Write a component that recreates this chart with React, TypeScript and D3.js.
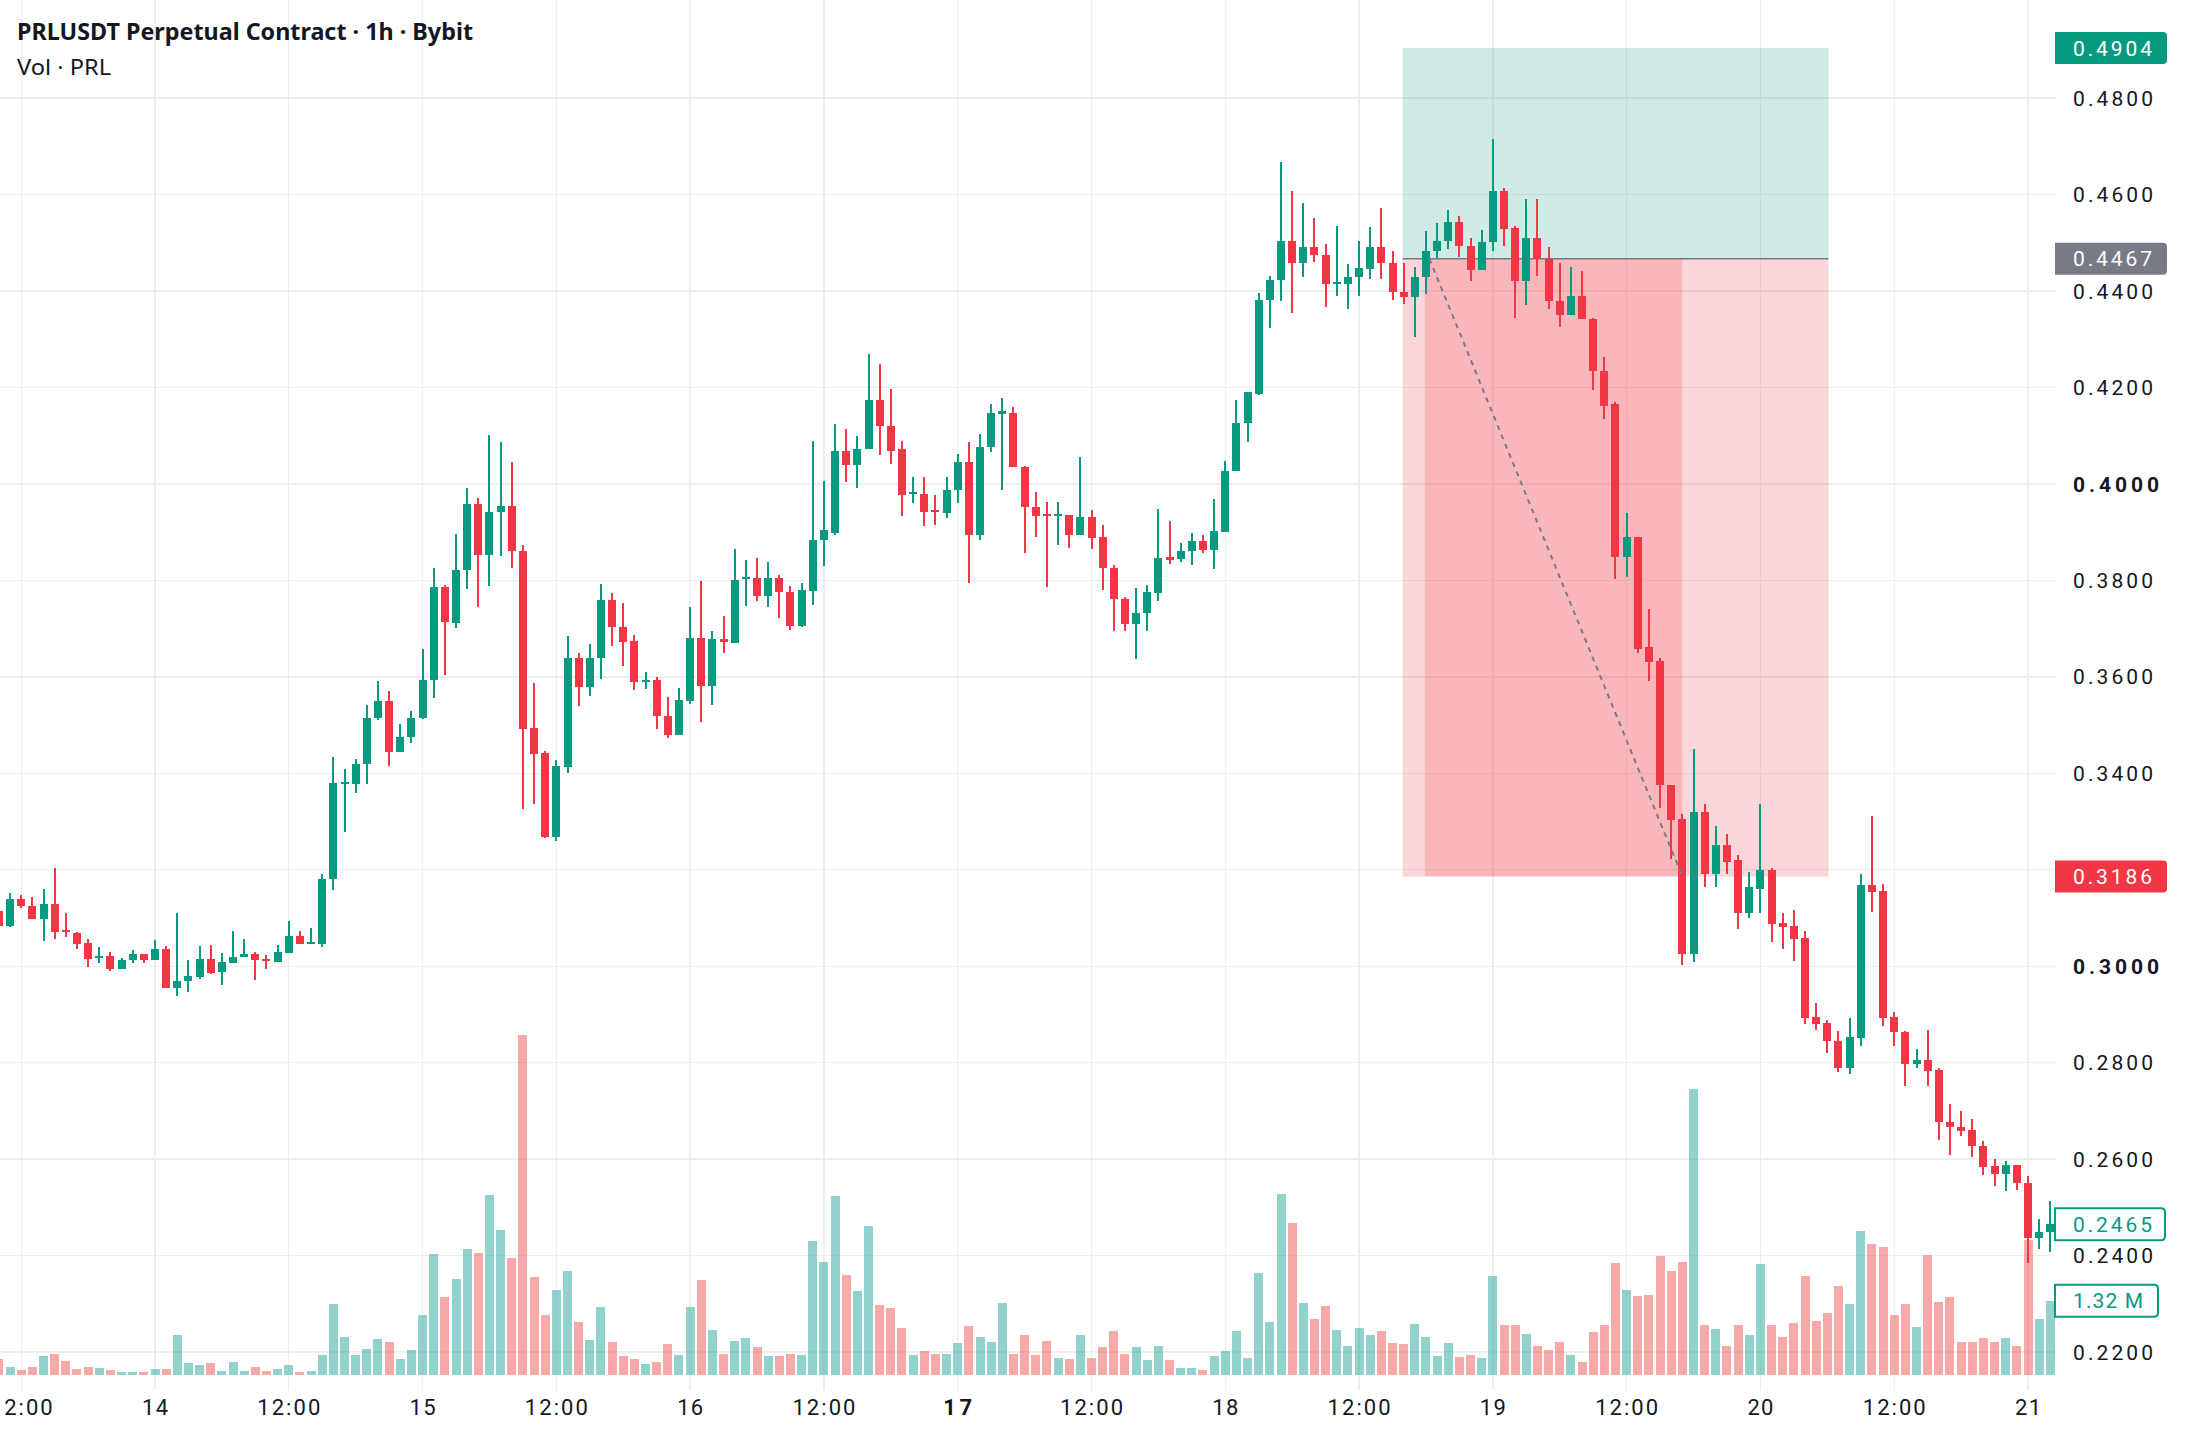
import React from 'react';
import * as d3 from 'd3';

// hourly candles per day: [open, high, low, close, volume (M)]
const day13 = [ // starts 10:00
  [0.3115, 0.3120, 0.3080, 0.3083, 0.29], [0.3083, 0.3152, 0.3081, 0.3140, 0.14],
  [0.3140, 0.3148, 0.3121, 0.3124, 0.09], [0.3125, 0.3144, 0.3097, 0.3099, 0.14],
  [0.3099, 0.3160, 0.3053, 0.3130, 0.33], [0.3130, 0.3204, 0.3056, 0.3072, 0.38],
  [0.3075, 0.3111, 0.3061, 0.3072, 0.25], [0.3069, 0.3071, 0.3035, 0.3047, 0.11],
  [0.3049, 0.3057, 0.2998, 0.3016, 0.14], [0.3019, 0.3040, 0.3006, 0.3021, 0.12],
  [0.3022, 0.3030, 0.2991, 0.2994, 0.09], [0.2994, 0.3017, 0.2994, 0.3012, 0.05],
  [0.3012, 0.3034, 0.3007, 0.3026, 0.06], [0.3026, 0.3026, 0.3006, 0.3012, 0.06],
];
const day14 = [
  [0.3012, 0.3055, 0.3012, 0.3036, 0.10], [0.3036, 0.3042, 0.2954, 0.2954, 0.11],
  [0.2954, 0.3111, 0.2938, 0.2970, 0.71], [0.2969, 0.3014, 0.2946, 0.2980, 0.22],
  [0.2978, 0.3042, 0.2974, 0.3016, 0.17], [0.3016, 0.3045, 0.2984, 0.2986, 0.21],
  [0.2988, 0.3028, 0.2962, 0.3009, 0.08], [0.3007, 0.3074, 0.3006, 0.3019, 0.24],
  [0.3019, 0.3057, 0.3019, 0.3026, 0.08], [0.3026, 0.3030, 0.2972, 0.3012, 0.14],
  [0.3016, 0.3024, 0.2994, 0.3014, 0.08], [0.3008, 0.3045, 0.3008, 0.3030, 0.10],
  [0.3028, 0.3094, 0.3028, 0.3063, 0.17], [0.3063, 0.3074, 0.3046, 0.3046, 0.05],
  [0.3048, 0.3079, 0.3048, 0.3050, 0.08], [0.3046, 0.3191, 0.3040, 0.3181, 0.35],
  [0.3181, 0.3433, 0.3159, 0.3379, 1.27], [0.3378, 0.3410, 0.3278, 0.3381, 0.67],
  [0.3378, 0.3429, 0.3359, 0.3420, 0.35], [0.3420, 0.3541, 0.3378, 0.3515, 0.47],
  [0.3515, 0.3591, 0.3511, 0.3550, 0.64], [0.3550, 0.3570, 0.3416, 0.3444, 0.58],
  [0.3444, 0.3503, 0.3444, 0.3476, 0.29], [0.3476, 0.3529, 0.3462, 0.3515, 0.44],
];
const day15 = [
  [0.3515, 0.3658, 0.3512, 0.3594, 1.06], [0.3594, 0.3825, 0.3557, 0.3787, 2.15],
  [0.3787, 0.3790, 0.3603, 0.3714, 1.38], [0.3711, 0.3896, 0.3702, 0.3821, 1.71],
  [0.3821, 0.3992, 0.3783, 0.3959, 2.24], [0.3959, 0.3970, 0.3744, 0.3852, 2.17],
  [0.3852, 0.4101, 0.3789, 0.3942, 3.21], [0.3942, 0.4088, 0.3850, 0.3955, 2.59],
  [0.3955, 0.4045, 0.3825, 0.3860, 2.09], [0.3860, 0.3873, 0.3327, 0.3491, 6.05],
  [0.3493, 0.3587, 0.3337, 0.3440, 1.74], [0.3442, 0.3446, 0.3265, 0.3268, 1.06],
  [0.3268, 0.3427, 0.3259, 0.3416, 1.52], [0.3414, 0.3684, 0.3401, 0.3639, 1.85],
  [0.3639, 0.3649, 0.3539, 0.3578, 0.95], [0.3578, 0.3669, 0.3560, 0.3640, 0.62],
  [0.3640, 0.3792, 0.3596, 0.3760, 1.21], [0.3760, 0.3774, 0.3664, 0.3703, 0.58],
  [0.3703, 0.3753, 0.3622, 0.3673, 0.34], [0.3674, 0.3686, 0.3572, 0.3590, 0.29],
  [0.3590, 0.3610, 0.3575, 0.3594, 0.20], [0.3594, 0.3600, 0.3492, 0.3518, 0.24],
  [0.3518, 0.3559, 0.3473, 0.3480, 0.56], [0.3480, 0.3577, 0.3480, 0.3552, 0.36],
];
const day16 = [
  [0.3551, 0.3744, 0.3543, 0.3680, 1.21], [0.3680, 0.3798, 0.3506, 0.3581, 1.69],
  [0.3581, 0.3696, 0.3541, 0.3679, 0.81], [0.3679, 0.3726, 0.3649, 0.3673, 0.38],
  [0.3671, 0.3866, 0.3671, 0.3800, 0.60], [0.3804, 0.3843, 0.3747, 0.3808, 0.65],
  [0.3805, 0.3847, 0.3758, 0.3767, 0.49], [0.3767, 0.3838, 0.3744, 0.3805, 0.34],
  [0.3806, 0.3812, 0.3722, 0.3776, 0.33], [0.3777, 0.3788, 0.3697, 0.3706, 0.38],
  [0.3706, 0.3795, 0.3703, 0.3780, 0.36], [0.3779, 0.4090, 0.3750, 0.3883, 2.39],
  [0.3884, 0.4007, 0.3829, 0.3904, 2.02], [0.3898, 0.4125, 0.3894, 0.4069, 3.19],
  [0.4069, 0.4113, 0.4004, 0.4039, 1.78], [0.4039, 0.4100, 0.3991, 0.4072, 1.49],
  [0.4072, 0.4269, 0.4072, 0.4175, 2.66], [0.4175, 0.4249, 0.4060, 0.4120, 1.24],
  [0.4120, 0.4197, 0.4042, 0.4069, 1.19], [0.4072, 0.4090, 0.3933, 0.3977, 0.83],
  [0.3980, 0.4015, 0.3960, 0.3984, 0.35], [0.3980, 0.4015, 0.3912, 0.3942, 0.42],
  [0.3945, 0.3978, 0.3914, 0.3942, 0.38], [0.3939, 0.4014, 0.3929, 0.3987, 0.38],
];
const day17 = [
  [0.3987, 0.4062, 0.3960, 0.4046, 0.57], [0.4046, 0.4086, 0.3794, 0.3895, 0.88],
  [0.3895, 0.4104, 0.3883, 0.4077, 0.67], [0.4077, 0.4165, 0.4067, 0.4148, 0.58],
  [0.4146, 0.4179, 0.3988, 0.4151, 1.28], [0.4148, 0.4160, 0.4035, 0.4035, 0.37],
  [0.4036, 0.4038, 0.3856, 0.3953, 0.72], [0.3953, 0.3983, 0.3891, 0.3933, 0.35],
  [0.3938, 0.3962, 0.3787, 0.3933, 0.60], [0.3933, 0.3962, 0.3874, 0.3938, 0.30],
  [0.3935, 0.3935, 0.3868, 0.3895, 0.29], [0.3895, 0.4055, 0.3895, 0.3932, 0.72],
  [0.3932, 0.3947, 0.3866, 0.3888, 0.31], [0.3890, 0.3914, 0.3781, 0.3826, 0.49],
  [0.3826, 0.3831, 0.3695, 0.3761, 0.78], [0.3761, 0.3766, 0.3695, 0.3710, 0.38],
  [0.3710, 0.3785, 0.3637, 0.3733, 0.50], [0.3733, 0.3790, 0.3695, 0.3775, 0.26],
  [0.3773, 0.3948, 0.3758, 0.3846, 0.52], [0.3848, 0.3924, 0.3835, 0.3843, 0.26],
  [0.3845, 0.3878, 0.3838, 0.3861, 0.13], [0.3861, 0.3898, 0.3831, 0.3881, 0.13],
  [0.3881, 0.3894, 0.3856, 0.3864, 0.09], [0.3864, 0.3968, 0.3823, 0.3903, 0.34],
];
const day18 = [
  [0.3900, 0.4048, 0.3900, 0.4026, 0.43], [0.4026, 0.4174, 0.4026, 0.4127, 0.79],
  [0.4127, 0.4191, 0.4086, 0.4191, 0.30], [0.4187, 0.4395, 0.4184, 0.4382, 1.81],
  [0.4382, 0.4432, 0.4324, 0.4422, 0.95], [0.4422, 0.4668, 0.4379, 0.4503, 3.23],
  [0.4503, 0.4608, 0.4354, 0.4459, 2.71], [0.4459, 0.4582, 0.4430, 0.4492, 1.29],
  [0.4492, 0.4552, 0.4460, 0.4474, 0.99], [0.4474, 0.4497, 0.4367, 0.4414, 1.23],
  [0.4414, 0.4535, 0.4390, 0.4419, 0.81], [0.4415, 0.4455, 0.4362, 0.4430, 0.52],
  [0.4430, 0.4503, 0.4389, 0.4447, 0.84], [0.4445, 0.4532, 0.4424, 0.4492, 0.71],
  [0.4492, 0.4572, 0.4425, 0.4459, 0.79], [0.4459, 0.4484, 0.4382, 0.4397, 0.57],
  [0.4399, 0.4459, 0.4373, 0.4387, 0.56], [0.4387, 0.4449, 0.4305, 0.4430, 0.91],
  [0.4430, 0.4524, 0.4394, 0.4483, 0.67], [0.4483, 0.4542, 0.4468, 0.4504, 0.34],
  [0.4504, 0.4569, 0.4487, 0.4543, 0.57], [0.4543, 0.4555, 0.4470, 0.4494, 0.32],
  [0.4494, 0.4509, 0.4420, 0.4444, 0.35], [0.4444, 0.4526, 0.4444, 0.4502, 0.31],
];
const day19 = [
  [0.4502, 0.4715, 0.4483, 0.4607, 1.77], [0.4607, 0.4614, 0.4494, 0.4528, 0.89],
  [0.4530, 0.4535, 0.4344, 0.4421, 0.89], [0.4421, 0.4591, 0.4370, 0.4509, 0.73],
  [0.4509, 0.4590, 0.4432, 0.4466, 0.51], [0.4466, 0.4492, 0.4363, 0.4380, 0.45],
  [0.4380, 0.4459, 0.4325, 0.4351, 0.58], [0.4351, 0.4449, 0.4351, 0.4389, 0.35],
  [0.4389, 0.4442, 0.4341, 0.4341, 0.23], [0.4341, 0.4344, 0.4195, 0.4234, 0.77],
  [0.4234, 0.4263, 0.4135, 0.4162, 0.89], [0.4166, 0.4169, 0.3803, 0.3848, 2.00],
  [0.3848, 0.3939, 0.3807, 0.3891, 1.51], [0.3891, 0.3891, 0.3649, 0.3657, 1.40],
  [0.3661, 0.3741, 0.3592, 0.3630, 1.43], [0.3632, 0.3640, 0.3329, 0.3376, 2.11],
  [0.3376, 0.3376, 0.3223, 0.3304, 1.86], [0.3305, 0.3316, 0.3003, 0.3026, 2.02],
  [0.3026, 0.3451, 0.3009, 0.3320, 5.10], [0.3320, 0.3336, 0.3164, 0.3192, 0.89],
  [0.3192, 0.3290, 0.3164, 0.3252, 0.82], [0.3252, 0.3275, 0.3191, 0.3217, 0.52],
  [0.3220, 0.3230, 0.3077, 0.3110, 0.89], [0.3110, 0.3195, 0.3100, 0.3164, 0.71],
];
const day20 = [
  [0.3161, 0.3337, 0.3110, 0.3199, 1.98], [0.3199, 0.3203, 0.3050, 0.3087, 0.89],
  [0.3089, 0.3110, 0.3035, 0.3082, 0.68], [0.3083, 0.3116, 0.3010, 0.3057, 0.93],
  [0.3058, 0.3073, 0.2881, 0.2893, 1.77], [0.2895, 0.2924, 0.2868, 0.2881, 0.96],
  [0.2882, 0.2888, 0.2820, 0.2844, 1.10], [0.2845, 0.2866, 0.2780, 0.2789, 1.58],
  [0.2789, 0.2893, 0.2776, 0.2854, 1.26], [0.2852, 0.3191, 0.2835, 0.3168, 2.56],
  [0.3168, 0.3311, 0.3112, 0.3154, 2.34], [0.3155, 0.3170, 0.2877, 0.2893, 2.28],
  [0.2895, 0.2905, 0.2835, 0.2863, 1.06], [0.2864, 0.2866, 0.2752, 0.2797, 1.26],
  [0.2798, 0.2828, 0.2789, 0.2806, 0.85], [0.2806, 0.2868, 0.2752, 0.2782, 2.14],
  [0.2784, 0.2789, 0.2639, 0.2677, 1.30], [0.2678, 0.2715, 0.2608, 0.2667, 1.38],
  [0.2666, 0.2699, 0.2649, 0.2658, 0.59], [0.2660, 0.2684, 0.2604, 0.2627, 0.59],
  [0.2628, 0.2637, 0.2568, 0.2583, 0.66], [0.2585, 0.2601, 0.2544, 0.2569, 0.59],
  [0.2569, 0.2597, 0.2534, 0.2587, 0.65], [0.2587, 0.2587, 0.2537, 0.2551, 0.52],
];
const day21 = [
  [0.2551, 0.2566, 0.2385, 0.2436, 2.40], [0.2437, 0.2477, 0.2413, 0.2450, 1.00],
  [0.2450, 0.2514, 0.2408, 0.2465, 1.32],
];

const days = [
  { day: 13, first: 10, rows: day13 }, { day: 14, first: 0, rows: day14 },
  { day: 15, first: 0, rows: day15 }, { day: 16, first: 0, rows: day16 },
  { day: 17, first: 0, rows: day17 }, { day: 18, first: 0, rows: day18 },
  { day: 19, first: 0, rows: day19 }, { day: 20, first: 0, rows: day20 },
  { day: 21, first: 0, rows: day21 },
];

const priceTicks = [0.22, 0.24, 0.26, 0.28, 0.30, 0.32, 0.34, 0.36, 0.38, 0.40, 0.42, 0.44, 0.46, 0.48];
const boldPrices = [0.30, 0.40];
const timeTicks = [-12, 0, 12, 24, 36, 48, 60, 72, 84, 96, 108, 120, 132, 144, 156, 168]; // hours from 14th 00:00
const boldDay = 17;

// long position tool (prices + hours from 14th 00:00)
const entry = 0.4467;
const target = 0.4904;
const stop = 0.3186;
const posStart = 111.9;
const posEnd = 150.1;
const tradeOpen = 113.9;
const tradeClose = 137;

const lastPrice = 0.2465;
const lastVolume = '1.32 M';

const UP = '#089981';
const DOWN = '#F23645';
const TEXT = '#131722';

export default function App() {
  const W = 2194, H = 1432;
  const x = d3.scaleLinear().domain([0, 168]).range([155, 2028]);
  const y = d3.scaleLinear().domain([0.22, 0.48]).range([1352.1, 98.1]);
  const v = d3.scaleLinear().domain([0, 6]).range([1375, 1038]);
  const paneRight = 2056;

  const candles = days.flatMap((d) =>
    d.rows.map((r, i) => ({
      t: (d.day - 14) * 24 + d.first + i,
      o: r[0], h: r[1], l: r[2], c: r[3], vol: r[4],
    }))
  );
  const lastVol = candles[candles.length - 1].vol;

  const bodyW = 8;
  const volW = 9;

  const fmtP = d3.format('.4f');

  // axis labels hidden behind the coloured price tags
  const tagYs = [y(target), y(entry), y(stop), y(lastPrice), v(lastVol)];
  const visibleTicks = priceTicks.filter((p) => tagYs.every((ty) => Math.abs(ty - y(p)) > 24));

  const labelBox = (yc: number, w: number) => {
    const x0 = 2055, h = 32, r = 4, top = yc - h / 2;
    return `M${x0},${top}H${x0 + w - r}Q${x0 + w},${top} ${x0 + w},${top + r}V${top + h - r}Q${x0 + w},${top + h} ${x0 + w - r},${top + h}H${x0}Z`;
  };

  return (
    <svg width={W} height={H} style={{ position: 'absolute', left: 0, top: 0, background: '#fff' }}
      fontFamily="Roboto, 'Liberation Sans', sans-serif">
      <rect x={0} y={0} width={W} height={H} fill="#fff" />
      {/* grid */}
      <g stroke="#EEEEEE" strokeWidth={1.4} shapeRendering="crispEdges">
        {timeTicks.map((t) => (
          <line key={'vt' + t} x1={x(t)} x2={x(t)} y1={0} y2={1390} />
        ))}
        {priceTicks.map((p) => (
          <line key={'hp' + p} x1={0} x2={paneRight} y1={y(p)} y2={y(p)} />
        ))}
      </g>

      {/* position tool */}
      <rect x={x(posStart)} width={x(posEnd) - x(posStart)} y={y(target)} height={y(entry) - y(target)}
        fill="rgba(8,153,129,0.2)" />
      <rect x={x(posStart)} width={x(posEnd) - x(posStart)} y={y(entry)} height={y(stop) - y(entry)}
        fill="rgba(242,54,69,0.2)" />
      <rect x={x(tradeOpen)} width={x(tradeClose) - x(tradeOpen)} y={y(entry)} height={y(stop) - y(entry)}
        fill="rgba(242,54,69,0.2)" />
      <line x1={x(posStart)} x2={x(posEnd)} y1={y(entry)} y2={y(entry)} stroke="#787B86" strokeWidth={1.6} />

      {/* volume */}
      <g shapeRendering="crispEdges">
        {candles.map((d) => (
          <rect key={'v' + d.t} x={x(d.t) - volW / 2} width={volW} y={v(d.vol)} height={v(0) - v(d.vol)}
            fill={d.c >= d.o ? 'rgba(38,166,154,0.5)' : 'rgba(239,83,80,0.5)'} />
        ))}
      </g>

      {/* candles */}
      <g shapeRendering="crispEdges">
        {candles.map((d) => {
          const col = d.c >= d.o ? UP : DOWN;
          const top = y(Math.max(d.o, d.c));
          const bh = Math.max(2, Math.abs(y(d.o) - y(d.c)));
          return (
            <g key={'c' + d.t} fill={col}>
              <rect x={x(d.t) - 1} width={2} y={y(d.h)} height={y(d.l) - y(d.h)} />
              <rect x={x(d.t) - bodyW / 2} width={bodyW} y={top} height={bh} />
            </g>
          );
        })}
      </g>

      {/* trade path */}
      <line x1={x(tradeOpen + 0.4)} y1={y(entry)} x2={x(tradeClose)} y2={y(stop)}
        stroke="#787B86" strokeWidth={2} strokeDasharray="5 5" />

      {/* titles */}
      <text x={17} y={40} fontFamily="'Noto Sans', 'Open Sans', sans-serif" fontWeight={700} fontSize={23}
        fill={TEXT} textLength={456} lengthAdjust="spacingAndGlyphs">PRLUSDT Perpetual Contract · 1h · Bybit</text>
      <text x={17} y={75} fontFamily="'Noto Sans', 'Open Sans', sans-serif" fontSize={21}
        fill={TEXT} textLength={94} lengthAdjust="spacingAndGlyphs">Vol · PRL</text>

      {/* price axis */}
      {visibleTicks.map((p) => {
        const b = boldPrices.includes(p);
        return (
          <text key={'pl' + p} x={2073} y={y(p)} dy="0.36em" fontSize={21} fontWeight={b ? 700 : 400}
            fill={TEXT} textLength={b ? 86 : 80} lengthAdjust="spacing">{fmtP(p)}</text>
        );
      })}

      {/* time axis */}
      {timeTicks.map((t) => {
        const isDay = t % 24 === 0;
        const label = isDay ? String(14 + t / 24) : '12:00';
        const b = isDay && 14 + t / 24 === boldDay;
        return (
          <text key={'tl' + t} x={x(t)} y={1415} textAnchor="middle" fontSize={22} fontWeight={b ? 700 : 400}
            fill={TEXT} textLength={isDay ? (b ? 29 : 26) : 63} lengthAdjust="spacing">{label}</text>
        );
      })}

      {/* price tags */}
      <path d={labelBox(y(target), 112)} fill={UP} />
      <text x={2073} y={y(target)} dy="0.36em" fontSize={21} fill="#fff" textLength={79} lengthAdjust="spacing">{fmtP(target)}</text>
      <path d={labelBox(y(entry), 112)} fill="#787B86" />
      <text x={2073} y={y(entry)} dy="0.36em" fontSize={21} fill="#fff" textLength={79} lengthAdjust="spacing">{fmtP(entry)}</text>
      <path d={labelBox(y(stop), 112)} fill={DOWN} />
      <text x={2073} y={y(stop)} dy="0.36em" fontSize={21} fill="#fff" textLength={79} lengthAdjust="spacing">{fmtP(stop)}</text>
      <path d={labelBox(y(lastPrice), 110)} fill="#fff" stroke={UP} strokeWidth={2} />
      <text x={2073} y={y(lastPrice)} dy="0.36em" fontSize={21} fill={UP} textLength={79} lengthAdjust="spacing">{fmtP(lastPrice)}</text>
      <path d={labelBox(v(lastVol), 103)} fill="#fff" stroke={UP} strokeWidth={2} />
      <text x={2073} y={v(lastVol)} dy="0.36em" fontSize={21} fill={UP}
        textLength={70} lengthAdjust="spacing">{lastVolume}</text>
    </svg>
  );
}
